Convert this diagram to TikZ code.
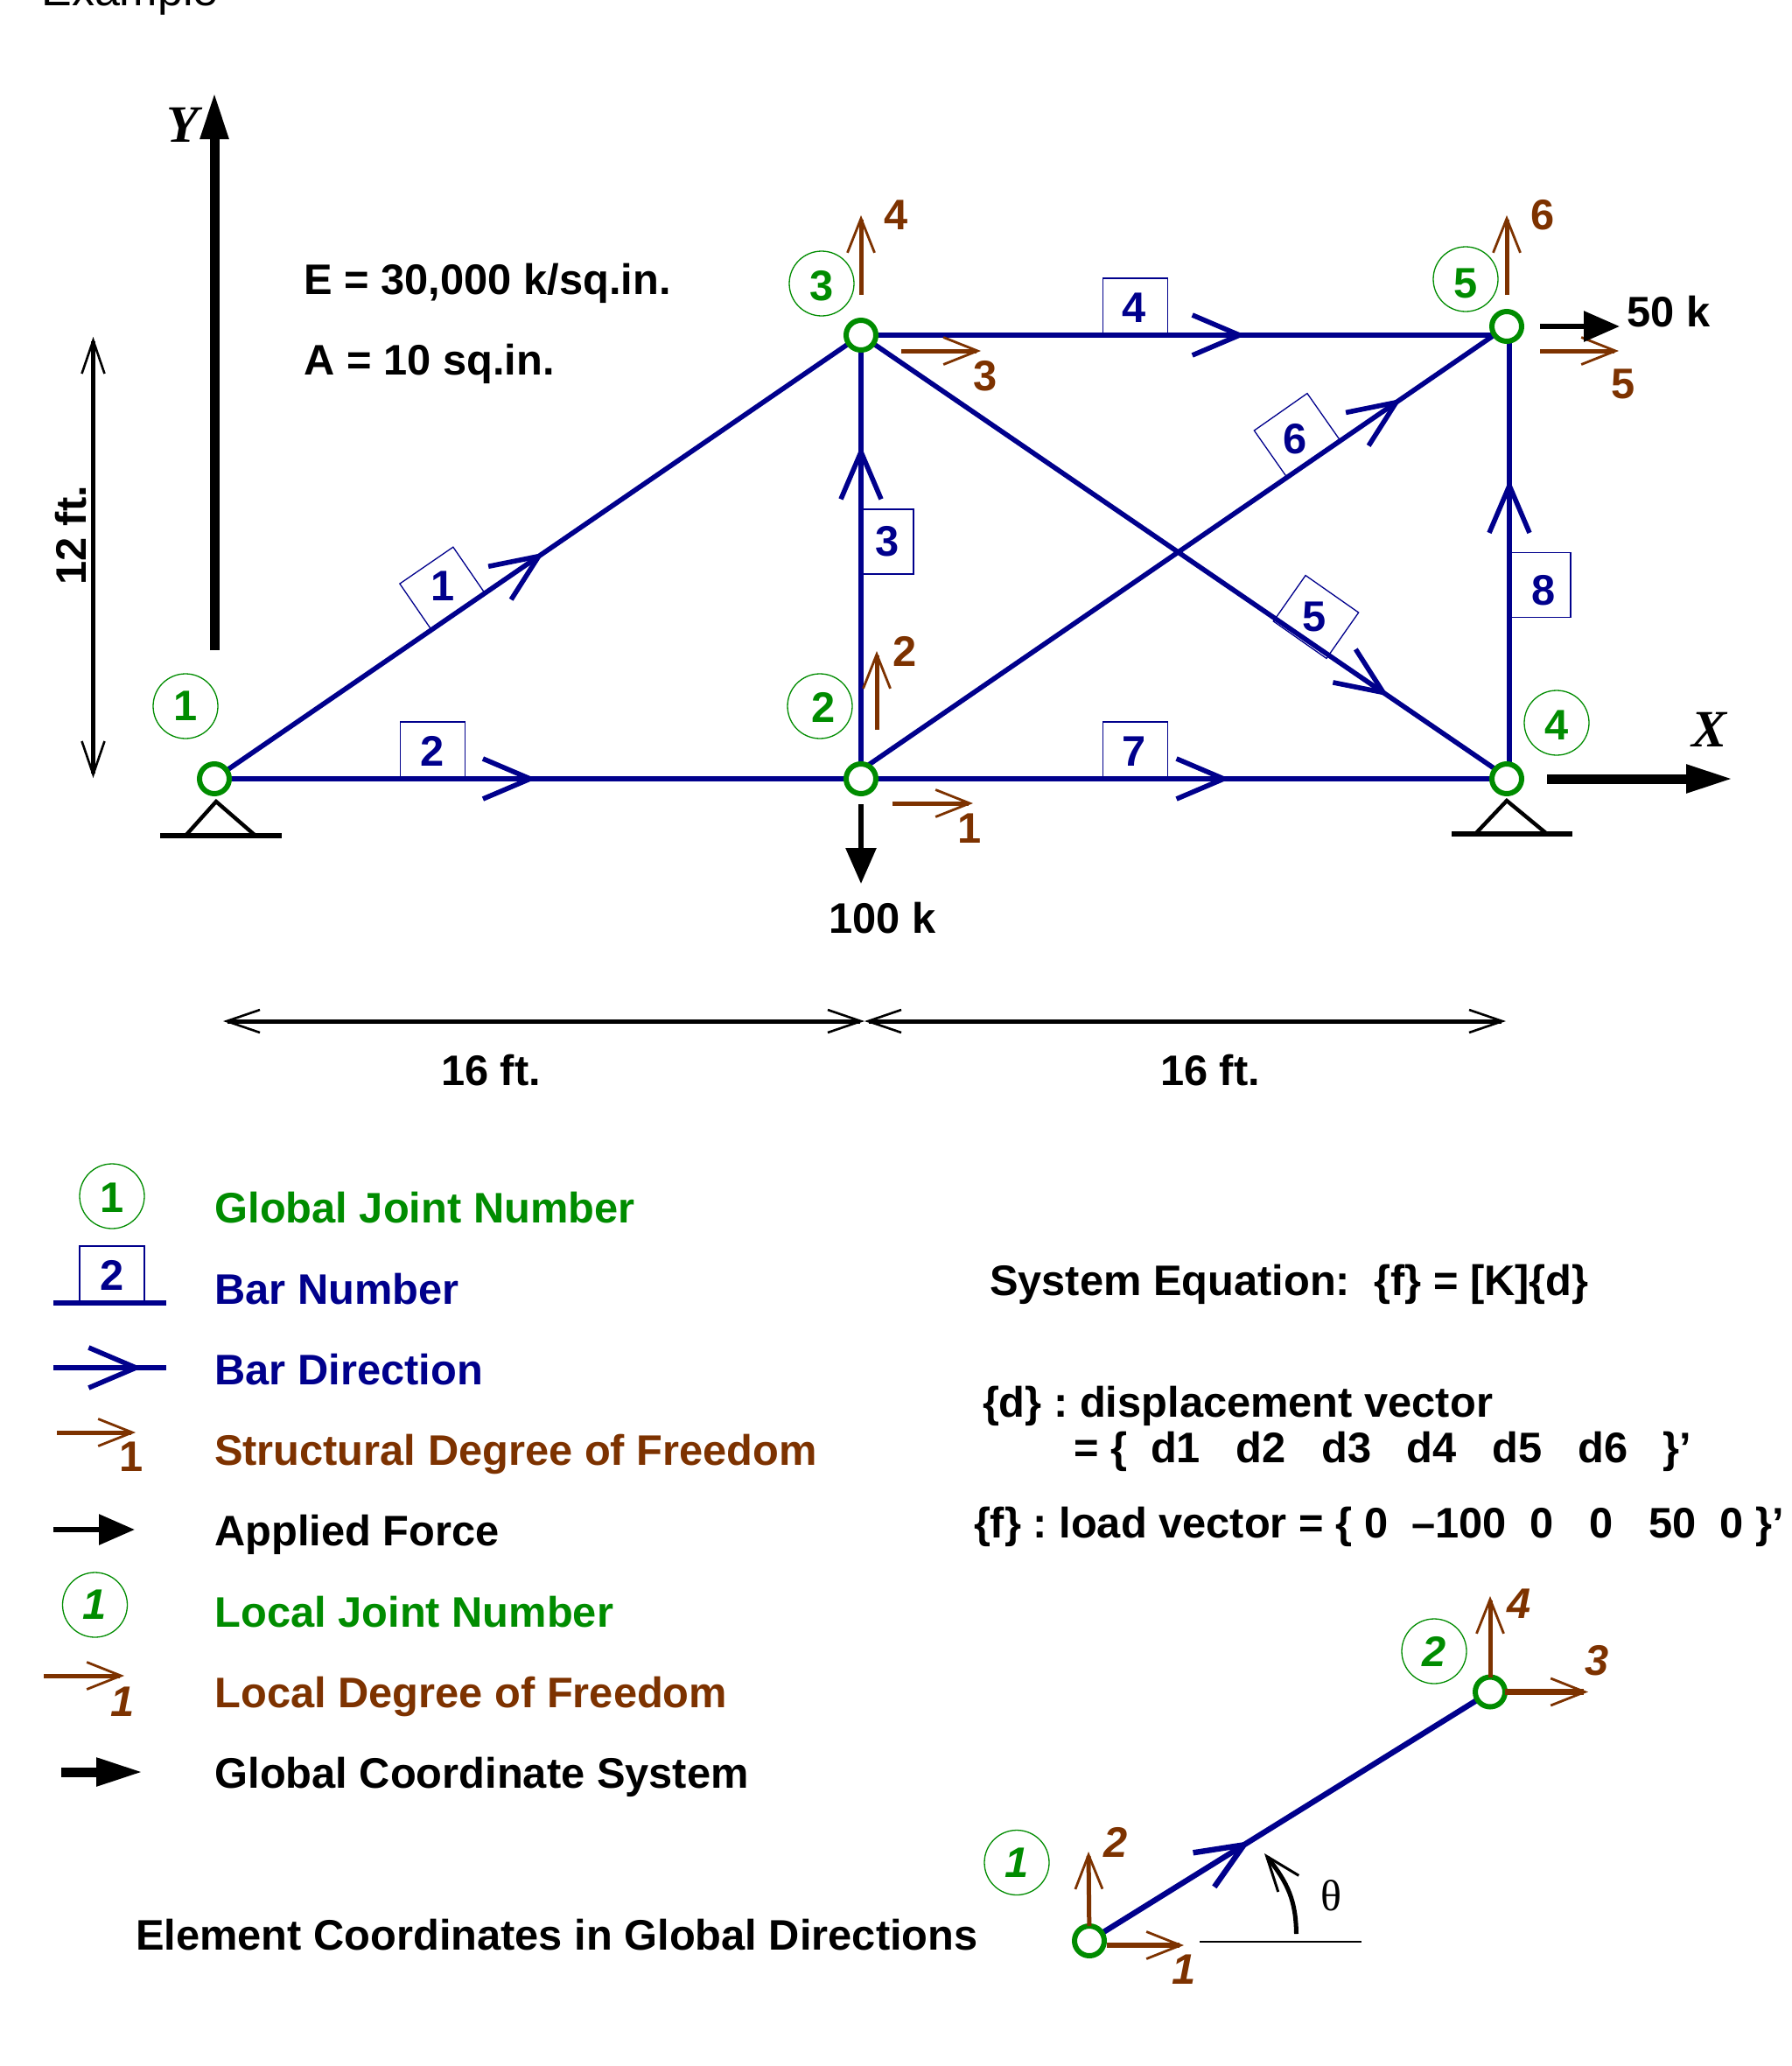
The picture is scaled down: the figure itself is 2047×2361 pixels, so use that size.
\documentclass[tikz,border=0pt]{standalone}
\usepackage{fontspec}
\usepackage{graphicx}
\setmainfont{Liberation Sans}
\newfontfamily\serifface{Liberation Serif}
\usetikzlibrary{arrows.meta,decorations.markings,calc}
\definecolor{jgreen}{RGB}{0,140,0}
\definecolor{bblue}{RGB}{0,0,140}
\definecolor{dbrown}{RGB}{125,50,0}
\pgfdeclarelayer{bars}
\pgfsetlayers{bars,main}
\frenchspacing
\newcommand\nudge[3]{\hspace*{#1}\raisebox{#2}[\height][\depth]{#3}}
\tikzset{
  barbtip/.tip={Straight Barb[length=27pt,width=23pt]},
  doftip/.tip={Straight Barb[length=19.5pt,width=15.5pt,line width=1.4pt]},
  dimtip/.tip={Straight Barb[length=19pt,width=13pt,line width=1.3pt]},
  txt/.style={font=\fontsize{24.4}{28}\selectfont\bfseries,inner sep=0pt,outer sep=0pt},
  lab/.style={txt,anchor=base west},
  itxt/.style={font=\fontsize{24.4}{28}\selectfont\bfseries\itshape,inner sep=0pt,outer sep=0pt},
  bar/.style={draw=bblue,line width=2.8pt},
  ebar/.style={draw=bblue,line width=3.2pt},
  dirmark/.style={postaction={decorate,decoration={markings,mark=at position #1 with {\arrow{barbtip}}}}},
  joint/.style={circle,draw=jgreen,fill=white,line width=3pt,minimum size=17pt,inner sep=0pt,outer sep=0pt},
  jnum/.style={circle,draw=jgreen,line width=0.65pt,minimum size=37pt,inner sep=0pt,text=jgreen,font=\fontsize{24.4}{28}\selectfont\bfseries},
  numbox/.style={rectangle,draw=bblue,line width=0.65pt,inner sep=0pt,text=bblue,font=\fontsize{24.4}{28}\selectfont\bfseries,minimum width=37pt,minimum height=32pt},
  numtxt/.style={txt,text=bblue},
  dof/.style={draw=dbrown,line width=2.5pt,-{doftip[color=dbrown]}},
  dofw/.style={draw=dbrown,line width=3.2pt,-{doftip[color=dbrown]}},
  dofl/.style={txt,text=dbrown},
  dofi/.style={itxt,text=dbrown},
  force/.style={draw=black,line width=3pt,-{Triangle[length=20.5pt,width=17pt]}},
  axis/.style={draw=black,line width=5.5pt,-{Triangle[length=27pt,width=15pt]}},
  dimline/.style={draw=black,line width=2.5pt,-{dimtip}},
  supp/.style={draw=black,line width=2.2pt},
}
\begin{document}
\begin{tikzpicture}[x=0.5pt,y=-0.5pt]
\path[use as bounding box] (0,0) rectangle (2047,2361);
\begin{pgfonlayer}{bars}
\fill[white] (0,0) rectangle (2047,2361);
\end{pgfonlayer}

% title cut by the page edge
\node[anchor=base west,inner sep=0pt,font=\fontsize{26}{30}\selectfont] (title) at (47,6) {Example};

% joints
\node[joint] (j1) at (245,890) {};
\node[joint] (j2) at (984,890) {};
\node[joint] (j3) at (984,383) {};
\node[joint] (j4) at (1722,890) {};
\node[joint] (j5) at (1722,373) {};
\coordinate (c4) at (1725,890);
\coordinate (c5) at (1725,383);
\coordinate (c2up) at (984,880);

% bars
\begin{pgfonlayer}{bars}
\draw[bar,dirmark=.510] (j1) -- (j3);
\draw[bar,dirmark=.498] (j1) -- (j2);
\draw[bar,dirmark=.769] (j2) -- (j3);
\draw[bar,dirmark=.584] (j3) -- (c5);
\draw[bar,dirmark=.810] (j3) -- (c4);
\draw[bar,dirmark=.853] (c2up) -- (j5);
\draw[bar,dirmark=.559] (j2) -- (c4);
\draw[bar,dirmark=.675] (c4) -- (c5);
\end{pgfonlayer}

% bar numbers
\node[numbox,rotate=34.5] (b1) at (505.5,672.5) {};
\node[numtxt] (b1t) at (506.5,669.5) {1};
\node[numbox] (b2) at (494.5,857) {\nudge{0pt}{-0.75pt}{2}};
\node[numbox,minimum width=30pt,minimum height=37pt] (b3) at (1014,619) {3};
\node[numbox] (b4) at (1297.5,350) {\nudge{-1.5pt}{-0.75pt}{4}};
\node[numbox,rotate=-35] (b5) at (1504,705) {};
\node[numtxt] (b5t) at (1502.5,705) {5};
\node[numbox,rotate=35] (b6) at (1482,497) {};
\node[numtxt] (b6t) at (1480.5,501.5) {6};
\node[numbox] (b7) at (1297.5,857) {\nudge{-1.5pt}{-0.75pt}{7}};
\node[numbox,minimum width=35pt,minimum height=37pt] (b8) at (1760,668.5) {\nudge{4.5pt}{-3pt}{8}};

% joint numbers
\node[jnum] (n1) at (212,807) {1};
\node[jnum] (n2) at (937,807) {\nudge{4.5pt}{-0.75pt}{2}};
\node[jnum] (n3) at (939,324) {\nudge{0pt}{-1.5pt}{3}};
\node[jnum] (n4) at (1779,826) {\nudge{0pt}{-1.5pt}{4}};
\node[jnum] (n5) at (1675,319) {\nudge{0pt}{-2.25pt}{5}};

% structural degrees of freedom
\coordinate (d1a) at (1020,918); \coordinate (d1b) at (1112,918);
\coordinate (d2a) at (1002,834); \coordinate (d2b) at (1002,744);
\coordinate (d3a) at (1030,401); \coordinate (d3b) at (1121,401);
\coordinate (d4a) at (984,337);  \coordinate (d4b) at (984,246);
\coordinate (d5a) at (1760,401); \coordinate (d5b) at (1850,401);
\coordinate (d6a) at (1722,337); \coordinate (d6b) at (1722,246);
\draw[dof] (d1a) -- (d1b);
\draw[dof] (d2a) -- (d2b);
\draw[dof] (d3a) -- (d3b);
\draw[dof] (d4a) -- (d4b);
\draw[dof] (d5a) -- (d5b);
\draw[dof] (d6a) -- (d6b);
\node[dofl] (l1) at (1108,947) {1};
\node[dofl] (l2) at (1034,744) {2};
\node[dofl] (l3) at (1126,430) {3};
\node[dofl] (l4) at (1024,246) {4};
\node[dofl] (l5) at (1855,439) {5};
\node[dofl] (l6) at (1763,246) {6};

% applied forces
\coordinate (f1a) at (984,919);  \coordinate (f1b) at (984,1010);
\coordinate (f2a) at (1760,373); \coordinate (f2b) at (1851,373);
\draw[force] (f1a) -- (f1b);
\draw[force] (f2a) -- (f2b);
\node[txt] (f100) at (1008.5,1049) {100 k};
\node[lab] (f50) at (1859.5,373) {50 k};

% global axes
\coordinate (ya) at (245,743);  \coordinate (yb) at (245,105);
\coordinate (xa) at (1768,890); \coordinate (xb) at (1981,890);
\draw[axis] (ya) -- (yb);
\draw[axis] (xa) -- (xb);
\node[inner sep=0pt,font=\serifface\fontsize{30}{34}\selectfont\bfseries\itshape] (ylab) at (208.5,142.5) {Y};
\node[inner sep=0pt,font=\serifface\fontsize{30}{34}\selectfont\bfseries\itshape] (xlab) at (1953.5,834) {X};

% properties
\node[lab] (pe) at (347.5,336.5) {E = 30,000 k/sq.in.};
\node[lab] (pa) at (347.5,428.5) {A = 10 sq.in.};

% dimensions
\coordinate (dya) at (106.5,636); \coordinate (dyb) at (106.5,385); \coordinate (dyc) at (106.5,889);
\draw[dimline] (dya) -- (dyb);
\draw[dimline] (dya) -- (dyc);
\node[txt,rotate=90] (d12) at (81,612) {12 ft.};
\coordinate (dx1) at (255,1167); \coordinate (dx2) at (988,1167);
\coordinate (dx4) at (1721,1167); \coordinate (dx0) at (620,1167); \coordinate (dx5) at (1350,1167);
\draw[dimline] (dx0) -- (dx1);
\draw[dimline] (dx0) -- (dx2);
\draw[dimline] (dx5) -- (dx2);
\draw[dimline] (dx5) -- (dx4);
\node[lab,anchor=base] (d16a) at (561,1240) {16 ft.};
\node[lab,anchor=base] (d16b) at (1383,1240) {16 ft.};

% supports
\draw[supp] (212,955) -- (247,916) -- (292,955);
\draw[supp,line width=2.8pt] (183,955) -- (322,955);
\draw[supp] (1686,953) -- (1722,915) -- (1768,953);
\draw[supp,line width=2.8pt] (1659,953) -- (1797,953);

% legend
\node[jnum] (k1) at (128,1367) {\nudge{0pt}{-0.75pt}{1}};
\node[lab,text=jgreen] (t1) at (245.5,1397) {Global Joint Number};
\node[numbox,minimum height=32pt] (k2) at (128,1456) {\nudge{0pt}{-0.75pt}{2}};
\coordinate (k2a) at (61,1489); \coordinate (k2b) at (190,1489);
\draw[bar] (k2a) -- (k2b);
\node[lab,text=bblue] (t2) at (245.5,1490.5) {Bar Number};
\coordinate (k3a) at (61,1563); \coordinate (k3b) at (190,1563);
\draw[bar,dirmark=.787] (k3a) -- (k3b);
\node[lab,text=bblue] (t3) at (245.5,1582.5) {Bar Direction};
\coordinate (k4a) at (65,1637); \coordinate (k4b) at (155,1637);
\draw[dof] (k4a) -- (k4b);
\node[dofl] (k4l) at (150,1665) {1};
\node[lab,text=dbrown] (t4) at (245,1674) {Structural Degree of Freedom};
\coordinate (k5a) at (61,1748); \coordinate (k5b) at (154,1748);
\draw[force] (k5a) -- (k5b);
\node[lab] (t5) at (245.5,1766.5) {Applied Force};
\node[jnum,font=\fontsize{24.4}{28}\selectfont\bfseries\itshape] (k6) at (108.5,1834) {1};
\node[lab,text=jgreen] (t6) at (245.5,1859) {Local Joint Number};
\coordinate (k7a) at (50,1915); \coordinate (k7b) at (142,1915);
\draw[dof] (k7a) -- (k7b);
\node[dofi] (k7l) at (140.5,1945) {1};
\node[lab,text=dbrown] (t7) at (245.5,1951) {Local Degree of Freedom};
\coordinate (k8a) at (70,2025); \coordinate (k8b) at (164,2025);
\draw[axis] (k8a) -- (k8b);
\node[lab] (t8) at (245.5,2043) {Global Coordinate System};
\node[lab] (t9) at (155,2228) {Element Coordinates in Global Directions};

% system equation
\node[lab] (s1) at (1131,1480) {System Equation:~~\{f\} = [K]\{d\}};
\node[lab] (s2) at (1123,1619) {\{d\} : displacement vector};
\node[lab] (s3) at (1227,1671) {= \{~~d1~~~d2~~~d3~~~d4~~~d5~~~d6~~~\}’};
\node[lab] (s4) at (1113,1757) {\{f\} : load vector = \{ 0~~–100~~0~~~0~~~50~~0 \}’};

% element
\node[joint] (e1) at (1245,2218) {};
\node[joint] (e2) at (1703,1933.5) {};
\begin{pgfonlayer}{bars}
\draw[ebar,dirmark=.394] (e1) -- (e2);
\end{pgfonlayer}
\node[jnum,font=\fontsize{24.4}{28}\selectfont\bfseries\itshape] (m1) at (1162,2128.5) {1};
\node[jnum,font=\fontsize{24.4}{28}\selectfont\bfseries\itshape] (m2) at (1639,1887) {2};
\coordinate (e1u) at (1244,2116); \coordinate (e2u) at (1703,1824);
\coordinate (e1s) at (1265,2223); \coordinate (e1r) at (1353,2223); \coordinate (e2r) at (1815,1933.5);
\draw[dof] (e1) -- (e1u);
\draw[dofw] (e1s) -- (e1r);
\draw[dof] (e2) -- (e2u);
\draw[dofw] (e2) -- (e2r);
\node[dofi] (q1) at (1353.5,2251) {1};
\node[dofi] (q2) at (1275,2105) {2};
\node[dofi] (q3) at (1825,1897.5) {3};
\node[dofi] (q4) at (1736,1832.5) {4};
\coordinate (aa) at (1481.5,2210); \coordinate (ab) at (1445,2118);
\coordinate (ba) at (1371,2219); \coordinate (bb) at (1556,2219);
\draw[black,line width=2.5pt,-{Straight Barb[length=20pt,width=15pt,line width=1.5pt]}] (aa) .. controls (1481,2172) and (1472,2152) .. (ab);
\draw[black,line width=1.3pt] (ba) -- (bb);
\node[inner sep=0pt,font=\serifface\fontsize{25}{28}\selectfont] (theta) at (1521.5,2166) {θ};
\end{tikzpicture}
\end{document}
